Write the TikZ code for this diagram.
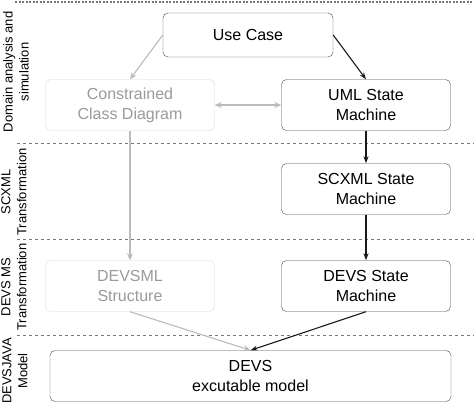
\documentclass[tikz,border=0pt]{standalone}
\usepackage{fontspec}
\setmainfont{Liberation Sans}
\usetikzlibrary{arrows.meta}

\definecolor{boxline}{HTML}{4A4A4A}
\definecolor{fadeline}{HTML}{D8D8D8}
\definecolor{fadetext}{HTML}{9A9A9A}
\definecolor{fadearrow}{HTML}{BBBBBB}
\definecolor{sepline}{HTML}{777777}

\begin{document}
\begin{tikzpicture}[x=1pt, y=-1pt,
  stage/.style={draw=boxline, rounded corners=5pt, align=center,
    minimum width=169pt, minimum height=51pt,
    font=\fontsize{16}{20}\selectfont},
  faded/.style={stage, draw=fadeline, text=fadetext},
  lane/.style={rotate=90, align=center, font=\fontsize{13}{16}\selectfont},
  sep/.style={draw=sepline, dashed, line width=0.6pt},
  flow/.style={draw=black!90, line width=1.1pt, -{Stealth[length=7pt, width=5pt]}},
  fadeflow/.style={draw=fadearrow, line width=1.1pt, -{Stealth[length=7pt, width=6pt, open]}}]
\useasboundingbox (0, 0) rectangle (474, 405);

% lane separators
\draw[draw=sepline, line width=2pt, dash pattern=on 2pt off 1.5pt] (15, 2) -- (474, 2);
\draw[sep] (17, 143) -- (474, 143);
\draw[sep] (17, 239) -- (474, 239);
\draw[sep] (17, 335) -- (474, 335);

% lane labels
\node[lane] (lanedomain) at (16, 72) {Domain analysis and\\simulation};
\node[lane] (lanescxml) at (14, 192) {SCXML\\Transformation};
\node[lane] (lanedevsms) at (14, 287) {DEVS MS\\Transformation};
\node[lane] (lanejava) at (15, 371) {DEVSJAVA\\Model};

% boxes
\node[stage, minimum width=170pt, minimum height=44pt] (usecase) at (248, 35) {Use Case};
\node[faded] (classdiag) at (130, 105) {Constrained\\Class Diagram};
\node[stage] (umlsm) at (366, 105) {UML State\\Machine};
\node[stage] (scxmlsm) at (366, 189) {SCXML State\\Machine};
\node[faded] (devsml) at (130, 286) {DEVSML\\Structure};
\node[stage] (devssm) at (366, 286) {DEVS State\\Machine};
\node[stage, minimum width=401pt] (devsexec) at (250.5, 376) {DEVS\\excutable model};

% connectors
\draw[fadeflow] (usecase.west) -- (classdiag.north);
\draw[fadeflow, {Stealth[length=7pt, width=6pt, open]}-{Stealth[length=7pt, width=6pt, open]}] (classdiag.east) -- (umlsm.west);
\draw[fadeflow] (classdiag.south) -- (devsml.north);
\draw[fadeflow] (devsml.south) -- (devsexec.north);
\draw[flow] (usecase.east) -- (umlsm.north);
\draw[flow] (umlsm.south) -- (scxmlsm.north);
\draw[flow] (scxmlsm.south) -- (devssm.north);
\draw[flow] (devssm.south) -- (devsexec.north);

\end{tikzpicture}
\end{document}
